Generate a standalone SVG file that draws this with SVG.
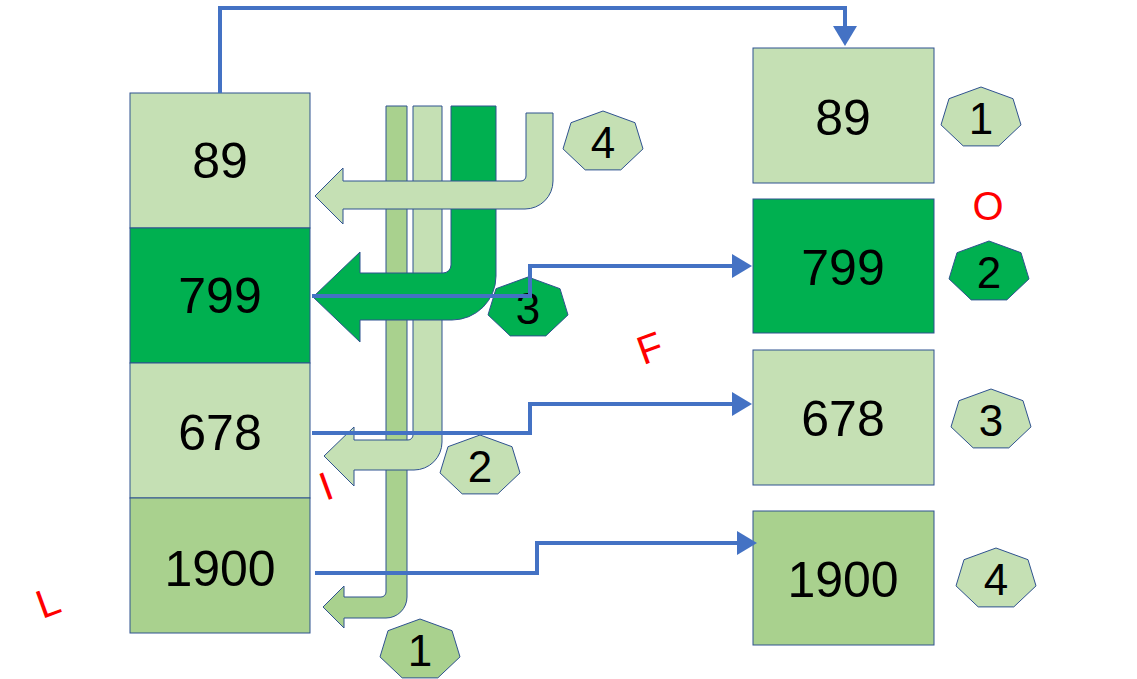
<svg xmlns="http://www.w3.org/2000/svg" width="1137" height="679" viewBox="0 0 1137 679">
<defs>
<style>
.box{stroke:#2F528F;stroke-width:1}
.l{fill:#C5E0B4}.m{fill:#A9D18E}.d{fill:#00B050}
.num{font-family:"Liberation Sans",Arial,sans-serif;font-size:50px;text-anchor:middle;fill:#000}
.bn{font-family:"Liberation Sans",Arial,sans-serif;font-size:44px;text-anchor:middle;fill:#000}
.red{font-family:"Liberation Sans",Arial,sans-serif;font-size:40px;fill:#FF0000;text-anchor:middle}
.con{fill:none;stroke:#4472C4;stroke-width:4}
</style>
<marker id="ah" markerWidth="6" markerHeight="6" refX="4" refY="3" orient="auto" markerUnits="strokeWidth"><path d="M0,0 L5,3 L0,6 Z" fill="#4472C4"/></marker>
<polygon id="hep" points="0,-31 32,-19.3 40,6.9 17.8,27.9 -17.8,27.9 -40,6.9 -32,-19.3"/>
</defs>
<rect width="1137" height="679" fill="#fff"/>
<g id="stack">
<g id="s89"><rect class="box l" x="130" y="93" width="180" height="135"/><text class="num" x="220" y="178">89</text></g>
<g id="s799"><rect class="box d" x="130" y="228" width="180" height="135"/><text class="num" x="220" y="313">799</text></g>
<g id="s678"><rect class="box l" x="130" y="363" width="180" height="135"/><text class="num" x="220" y="450">678</text></g>
<g id="s1900"><rect class="box m" x="130" y="498" width="180" height="135"/><text class="num" x="220" y="586">1900</text></g>
</g>
<g id="right">
<g id="r89"><rect class="box l" x="753" y="48" width="181" height="135"/><text class="num" x="843" y="135">89</text></g>
<g id="r799"><rect class="box d" x="753" y="199" width="181" height="134"/><text class="num" x="843" y="285">799</text></g>
<g id="r678"><rect class="box l" x="753" y="350" width="181" height="135"/><text class="num" x="843" y="436">678</text></g>
<g id="r1900"><rect class="box m" x="753" y="511" width="181" height="134"/><text class="num" x="843" y="597">1900</text></g>
</g>
<g id="bent">
<path class="box m" d="M407,106 V597 A21,21 0 0 1 386,618 H344 V628 L323,607 L344,586 V597 H381 A5,5 0 0 0 386,592 V106 Z"/>
<path class="box l" d="M442,106 V442 A28,28 0 0 1 414,470 H354 V486 L324,456 L354,427 V440 H408 A5,5 0 0 0 413,435 V106 Z"/>
<path class="box d" d="M496,106 V276 A44,44 0 0 1 452,320 H360 V342 L313,297 L360,252 V273 H443 A8,8 0 0 0 451,265 V106 Z"/>
<path class="box l" d="M553,113 V181 A28,28 0 0 1 525,209 H343 V224 L315,196 L343,168 V181 H521 A5,5 0 0 0 526,176 V113 Z"/>
</g>
<g id="badges">
<g id="b4l"><use href="#hep" class="box l" x="603" y="142"/><text class="bn" x="603" y="158">4</text></g>
<g id="b3l"><use href="#hep" class="box d" x="528" y="308"/><text class="bn" x="528" y="324">3</text></g>
<g id="b2l"><use href="#hep" class="box l" x="480" y="466"/><text class="bn" x="480" y="482">2</text></g>
<g id="b1l"><use href="#hep" class="box m" x="420" y="650"/><text class="bn" x="420" y="666">1</text></g>
<g id="b1r"><use href="#hep" class="box l" x="981" y="118"/><text class="bn" x="981" y="134">1</text></g>
<g id="b2r"><use href="#hep" class="box d" x="989" y="272"/><text class="bn" x="989" y="288">2</text></g>
<g id="b3r"><use href="#hep" class="box l" x="991" y="420"/><text class="bn" x="991" y="436">3</text></g>
<g id="b4r"><use href="#hep" class="box l" x="996" y="579"/><text class="bn" x="996" y="595">4</text></g>
</g>
<g id="connectors">
<path class="con" d="M220,93 V8 H845 V42" marker-end="url(#ah)"/>
<path class="con" d="M312,296 H530 V266 H748" marker-end="url(#ah)"/>
<path class="con" d="M312,433 H530 V404 H748" marker-end="url(#ah)"/>
<path class="con" d="M315,573 H537 V543 H753" marker-end="url(#ah)"/>
</g>
<g id="letters">
<text class="red" x="988" y="220">O</text>
<text class="red" x="650" y="362" transform="rotate(-20 650 348)">F</text>
<text class="red" x="326" y="500" transform="rotate(-20 326 486)">I</text>
<text class="red" x="48" y="616" transform="rotate(-20 48 602)">L</text>
</g>
</svg>
